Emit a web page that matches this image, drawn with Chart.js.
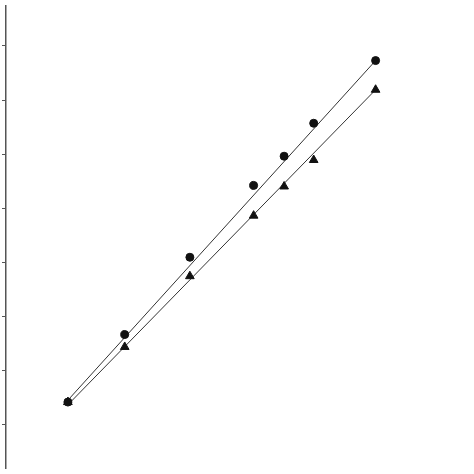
<!DOCTYPE html>
<html>
<head>
<script src="https://cdn.jsdelivr.net/npm/chart.js@4"></script>
<style>html,body{margin:0;padding:0;background:#fff}#wrap{width:474px;height:474px}</style>
</head>
<body>
<div id="wrap"><canvas id="c"></canvas></div>
<script>
// measured points
const xs = [1.34, 2.57, 3.98, 5.36, 6.02, 6.66, 8.0];
const circles = [1.41, 2.66, 4.09, 5.42, 5.96, 6.57, 7.73];
const triangles = [1.41, 2.43, 3.74, 4.86, 5.40, 5.89, 7.19];
// fitted lines (end points)
const circleFit = [[1.25, 1.36], [8.0, 7.73]];
const triangleFit = [[1.34, 1.36], [8.0, 7.19]];
const yTicks = [1, 2, 3, 4, 5, 6, 7, 8];

const pts = ys => ys.map((y, i) => ({x: xs[i], y: y}));
const seg = p => p.map(a => ({x: a[0], y: a[1]}));

new Chart(document.getElementById('c').getContext('2d'), {
  type: 'scatter',
  data: {
    datasets: [
      { data: pts(circles), pointStyle: 'circle', pointRadius: 4, backgroundColor: '#111', borderColor: '#111' },
      { data: pts(triangles), pointStyle: 'triangle', pointRadius: 5, backgroundColor: '#111', borderColor: '#111' },
      { data: seg(circleFit), showLine: true, pointRadius: 0, borderColor: '#333', borderWidth: 1 },
      { data: seg(triangleFit), showLine: true, pointRadius: 0, borderColor: '#333', borderWidth: 1 }
    ]
  },
  options: {
    responsive: true,
    maintainAspectRatio: false,
    animation: false,
    layout: { padding: 0 },
    plugins: { legend: { display: false }, tooltip: { enabled: false } },
    scales: {
      x: { type: 'linear', display: false, min: 0, max: 10 },
      y: {
        min: 0.19, max: 8.74,
        afterBuildTicks: axis => { axis.ticks = yTicks.map(v => ({value: v})); },
        ticks: { display: false },
        grid: { drawOnChartArea: false, drawTicks: true, tickLength: 4, color: '#555' },
        border: { display: true, color: '#555', width: 1.5 }
      }
    }
  }
});
</script>
</body>
</html>
